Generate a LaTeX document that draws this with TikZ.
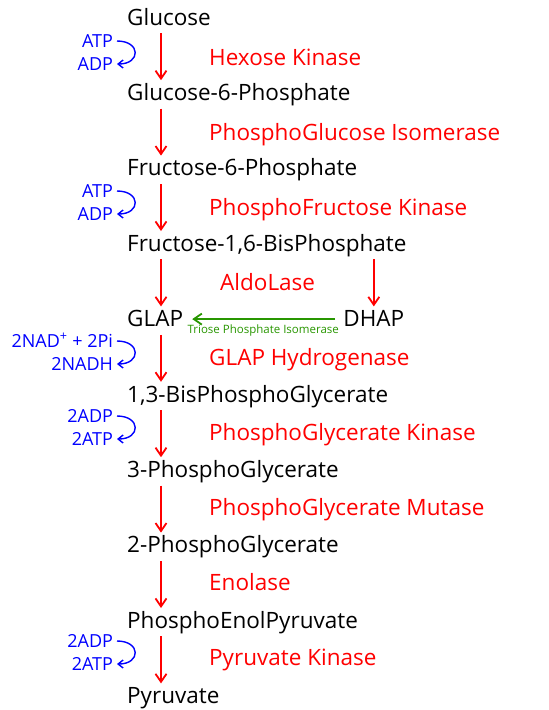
\documentclass[tikz,border=0pt]{standalone}
\usepackage{fontspec}
\setmainfont{Open Sans}
\usetikzlibrary{arrows.meta,positioning}
\definecolor{isomgreen}{RGB}{40,150,0}

\begin{document}
\begin{tikzpicture}[x=1pt,y=-1pt,node distance=60pt,
      metabolite/.style={inner sep=0pt,text height=15pt,text depth=0pt,
      font=\fontsize{22.5}{26}\selectfont},
      enzyme/.style={anchor=base west,inner sep=0pt,text=red,
      font=\fontsize{22.5}{26}\selectfont},
      cofactor/.style={anchor=base east,inner sep=0pt,outer sep=4pt,
      text height=12pt,text depth=0pt,text=blue,
      font=\fontsize{18}{21}\selectfont},
      pathway arrow/.style={draw=red,line width=1.8pt,
      -{Straight Barb[length=8pt,width=11pt]},shorten <=8pt,shorten >=5pt},
      cofactor arrow/.style={draw=blue,line width=1.4pt,
      -{Straight Barb[length=5pt,width=8pt]}},
      isomerase arrow/.style={draw=isomgreen,line width=1.8pt,
      -{Straight Barb[length=8pt,width=11pt]},shorten <=8pt,shorten >=9pt}]

      \useasboundingbox (0,0) rectangle (549,710);
      \coordinate (axis) at (161,0);

      %% METABOLITES, ONE ROW EVERY 75PT
      \node[metabolite,anchor=base west] (glc) at (127,25) {Glucose};
      \node[metabolite] (g6p) [below=of glc.south west,anchor=north west] {Glucose-6-Phosphate};
      \node[metabolite] (f6p) [below=of g6p.south west,anchor=north west] {Fructose-6-Phosphate};
      \node[metabolite] (fbp) [below=of f6p.south west,anchor=north west] {Fructose-1,6-BisPhosphate};
      \node[metabolite] (glap) [below=of fbp.south west,anchor=north west] {GLAP};
      \node[metabolite] (dhap) [right=160pt of glap] {DHAP};
      \node[metabolite] (bpg) [below=of glap.south west,anchor=north west] {1,3-BisPhosphoGlycerate};
      \node[metabolite] (pg3) [below=of bpg.south west,anchor=north west] {3-PhosphoGlycerate};
      \node[metabolite] (pg2) [below=of pg3.south west,anchor=north west] {2-PhosphoGlycerate};
      \node[metabolite] (pep) [below=of pg2.south west,anchor=north west] {PhosphoEnolPyruvate};
      \node[metabolite] (pyr) [below=of pep.south west,anchor=north west] {Pyruvate};

      %% ENZYMES
      \node[enzyme] (hk) at (209,65) {Hexose Kinase};
      \node[enzyme] (pgi) at (209,140) {PhosphoGlucose Isomerase};
      \node[enzyme] (pfk) at (209,215) {PhosphoFructose Kinase};
      \node[enzyme] (ald) at (220,290) {AldoLase};
      \node[enzyme] (gapdh) at (209,365) {GLAP Hydrogenase};
      \node[enzyme] (pgk) at (209,440) {PhosphoGlycerate Kinase};
      \node[enzyme] (pgm) at (209,515) {PhosphoGlycerate Mutase};
      \node[enzyme] (eno) at (209,590) {Enolase};
      \node[enzyme] (pk) at (209,665) {Pyruvate Kinase};

      %% COFACTORS
      \node[cofactor] (atp1) at (117,47) {ATP};
      \node[cofactor] (adp1) at (117,70) {ADP};
      \node[cofactor] (atp2) at (117,197) {ATP};
      \node[cofactor] (adp2) at (117,220) {ADP};
      \node[cofactor] (nad) at (117,347) {2NAD\textsuperscript{+} + 2Pi};
      \node[cofactor] (nadh) at (117,370) {2NADH};
      \node[cofactor] (adp3) at (117,422) {2ADP};
      \node[cofactor] (atp3) at (117,445) {2ATP};
      \node[cofactor] (adp4) at (117,647) {2ADP};
      \node[cofactor] (atp4) at (117,670) {2ATP};

      %% THE PATHWAY STEPS
      \path (glc.south -| axis) edge[pathway arrow] (g6p.north -| axis)
            (g6p.south -| axis) edge[pathway arrow] (f6p.north -| axis)
            (f6p.south -| axis) edge[pathway arrow] (fbp.north -| axis)
            (fbp.south -| axis) edge[pathway arrow] (glap.north -| axis)
            (fbp.south -| dhap) edge[pathway arrow] (dhap.north)
            (glap.south -| axis) edge[pathway arrow] (bpg.north -| axis)
            (bpg.south -| axis) edge[pathway arrow] (pg3.north -| axis)
            (pg3.south -| axis) edge[pathway arrow] (pg2.north -| axis)
            (pg2.south -| axis) edge[pathway arrow] (pep.north -| axis)
            (pep.south -| axis) edge[pathway arrow] (pyr.north -| axis);

      \path (dhap.west) edge[isomerase arrow] node[below=5pt,inner sep=0pt,
            text=isomgreen,font=\fontsize{11.5}{13}\selectfont]
            {Triose Phosphate Isomerase} (glap.east);

      %% THE COFACTOR HOOKS
      \draw[cofactor arrow] (atp1.east) .. controls +(24,0) and +(24,0) .. (adp1.east);
      \draw[cofactor arrow] (atp2.east) .. controls +(24,0) and +(24,0) .. (adp2.east);
      \draw[cofactor arrow] (nad.east) .. controls +(24,0) and +(24,0) .. (nadh.east);
      \draw[cofactor arrow] (adp3.east) .. controls +(24,0) and +(24,0) .. (atp3.east);
      \draw[cofactor arrow] (adp4.east) .. controls +(24,0) and +(24,0) .. (atp4.east);
\end{tikzpicture}
\end{document}
